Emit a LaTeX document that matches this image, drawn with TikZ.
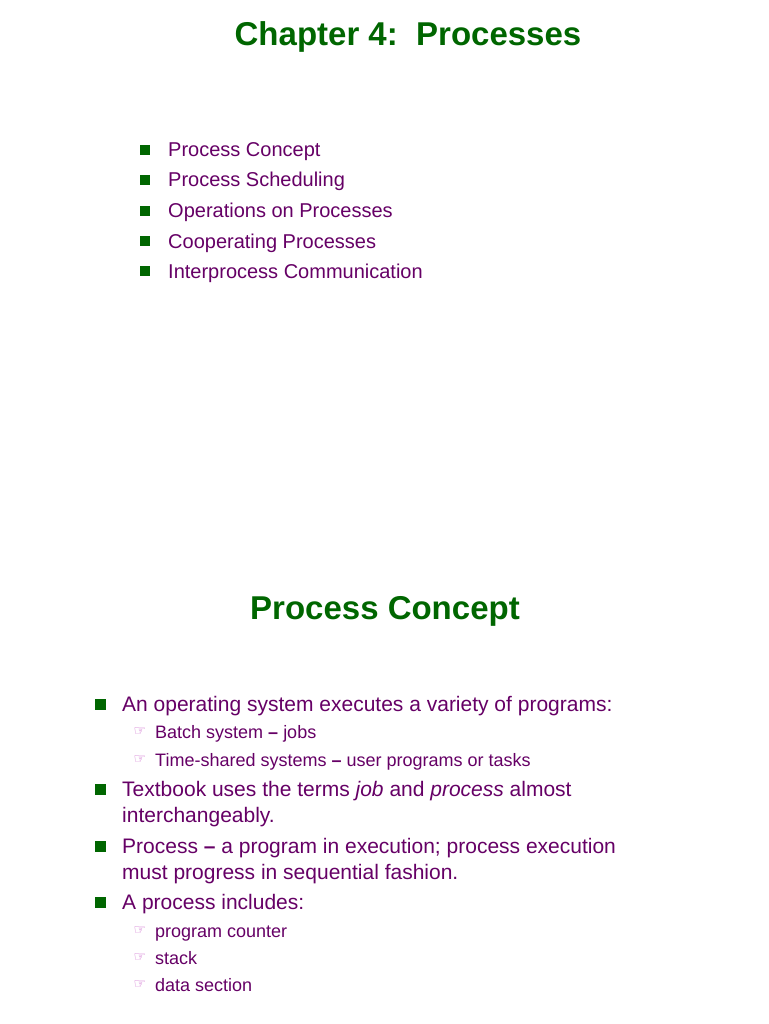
\documentclass[tikz,border=0pt]{standalone}
\usepackage{fontspec}
\setmainfont{Liberation Sans}
\newfontfamily\dvs{DejaVu Sans}
\definecolor{tgreen}{HTML}{006600}
\definecolor{tpurple}{HTML}{660066}
\definecolor{hand}{HTML}{CC66CC}
\tikzset{
 ttl/.style={font=\fontsize{33}{36}\selectfont\bfseries,text=tgreen,inner sep=0},
 li/.style={font=\fontsize{20}{22}\selectfont,text=tpurple,anchor=base west,inner sep=0},
 bd/.style={font=\fontsize{21}{24}\selectfont,text=tpurple,anchor=base west,inner sep=0},
 sb/.style={font=\fontsize{18}{20}\selectfont,text=tpurple,anchor=base west,inner sep=0},
 sq/.style={fill=tgreen,minimum size=10pt,inner sep=0},
 hd/.style={font=\dvs\fontsize{14}{16}\selectfont,text=hand,inner sep=0}
}
\begin{document}
\begin{tikzpicture}[x=1pt,y=-1pt]
\useasboundingbox[fill=white] (0,0) rectangle (768,1024);
\node[ttl] (t1) at (408,37) {Chapter 4:\ \ Processes};
\foreach \y/\t [count=\i] in {157/Process Concept,187/Process Scheduling,218/Operations on Processes,248/Cooperating Processes,278/Interprocess Communication}{
 \node[sq] (b\i) at (145,\y-7) {};
 \node[li] (l\i) at (168,\y) {\t};
}
\node[ttl] (t2) at (385,611) {Process Concept};
\node[sq,minimum size=11pt] (c1) at (100,704) {};
\node[bd] (p1) at (122,711) {An operating system executes a variety of programs:};
\node[hd] (h1) at (140,732) {☞};
\node[sb] (s1) at (155,738) {Batch system \textbf{–} jobs};
\node[hd] (h2) at (140,760) {☞};
\node[sb] (s2) at (155,766) {Time-shared systems \textbf{–} user programs or tasks};
\node[sq,minimum size=11pt] (c2) at (100,789) {};
\node[bd] (p2) at (122,796) {Textbook uses the terms \textit{job} and \textit{process} almost};
\node[bd] (p2b) at (122,822) {interchangeably.};
\node[sq,minimum size=11pt] (c3) at (100,846) {};
\node[bd] (p3) at (122,853) {Process \textbf{–} a program in execution; process execution};
\node[bd] (p3b) at (122,879) {must progress in sequential fashion.};
\node[sq,minimum size=11pt] (c4) at (100,902) {};
\node[bd] (p4) at (122,909) {A process includes:};
\node[hd] (h3) at (140,931) {☞};
\node[sb] (s3) at (155,937) {program counter};
\node[hd] (h4) at (140,958) {☞};
\node[sb] (s4) at (155,964) {stack};
\node[hd] (h5) at (140,985) {☞};
\node[sb] (s5) at (155,991) {data section};
\end{tikzpicture}
\end{document}
